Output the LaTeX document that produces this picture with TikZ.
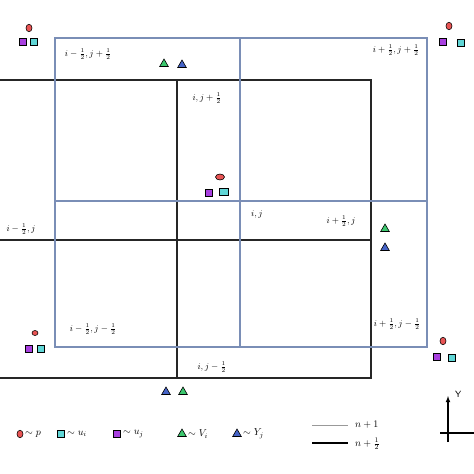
\documentclass[tikz,border=0pt]{standalone}
\usetikzlibrary{shapes.geometric}
\definecolor{gridblue}{RGB}{122,142,182}
\definecolor{mred}{RGB}{232,84,84}
\definecolor{mpurple}{RGB}{168,64,224}
\definecolor{mcyan}{RGB}{96,214,214}
\definecolor{mgreen}{RGB}{60,200,110}
\definecolor{mblue}{RGB}{70,100,200}
\tikzset{
  blk/.style={line width=1.8pt,black!85},
  blu/.style={line width=1.6pt,gridblue},
  lbl/.style={font=\small,inner sep=0pt},
  pm/.style={ellipse,draw=black,line width=0.6pt,fill=mred,minimum width=6pt,minimum height=7.5pt,inner sep=0pt},
  um/.style={rectangle,draw=black,line width=0.6pt,fill=mcyan,minimum size=7pt,inner sep=0pt},
  vm/.style={rectangle,draw=black,line width=0.6pt,fill=mpurple,minimum size=7pt,inner sep=0pt},
  gt/.style={regular polygon,regular polygon sides=3,draw=black,line width=0.6pt,fill=mgreen,minimum size=10pt,inner sep=0pt},
  bt/.style={regular polygon,regular polygon sides=3,draw=black,line width=0.6pt,fill=mblue,minimum size=10pt,inner sep=0pt},
  leg/.style={font=\normalsize,inner sep=0pt,anchor=west}
}
\begin{document}
\begin{tikzpicture}[x=1pt,y=-1pt]
\useasboundingbox (0,0) rectangle (474,474);
% black grid (n+1/2)
\draw[blk] (0,80) -- (371,80) -- (371,378) -- (0,378);
\draw[blk] (0,240) -- (371,240);
\draw[blk] (177,80) -- (177,378);
% blue grid (n+1)
\draw[blu] (55,38) rectangle (427,347);
\draw[blu] (55,201) -- (427,201);
\draw[blu] (240,38) -- (240,347);
% labels
\node[lbl] (l1) at (88,54) {$i-\frac12,j+\frac12$};
\node[lbl] (l2) at (207,98) {$i,j+\frac12$};
\node[lbl] (l3) at (396,50) {$i+\frac12,j+\frac12$};
\node[lbl] (l4) at (21,229) {$i-\frac12,j$};
\node[lbl] (l5) at (257,214) {$i,j$};
\node[lbl] (l6) at (341,221) {$i+\frac12,j$};
\node[lbl] (l7) at (93,329) {$i-\frac12,j-\frac12$};
\node[lbl] (l8) at (212,367) {$i,j-\frac12$};
\node[lbl] (l9) at (397,324) {$i+\frac12,j-\frac12$};
% markers top-left
\node[pm] (p1) at (29,28) {};
\node[vm] (v1) at (23,42) {};
\node[um] (u1) at (34,42) {};
% top-right
\node[pm] (p2) at (449,26) {};
\node[vm] (v2) at (443,42) {};
\node[um] (u2) at (461,43) {};
% centre
\node[pm,minimum width=9pt,minimum height=6pt] (p3) at (220,177) {};
\node[vm] (v3) at (209,193) {};
\node[um,minimum width=9pt] (u3) at (224,192) {};
% bottom-left
\node[pm,minimum width=6pt,minimum height=5pt] (p4) at (35,333) {};
\node[vm] (v4) at (29,349) {};
\node[um] (u4) at (41,349) {};
% bottom-right
\node[pm] (p5) at (443,341) {};
\node[vm] (v5) at (437,357) {};
\node[um] (u5) at (452,358) {};
% triangles
\node[gt] (g1) at (164,64) {};
\node[bt] (b1) at (182,65) {};
\node[gt] (g2) at (385,229) {};
\node[bt] (b2) at (385,248) {};
\node[bt] (b3) at (166,392) {};
\node[gt] (g3) at (183,392) {};
% legend
\node[pm] (lp) at (20,434) {};
\node[leg] (lpt) at (25,434) {$\sim p$};
\node[um] (lu) at (61,434) {};
\node[leg] (lut) at (67,434) {$\sim u_i$};
\node[vm] (lv) at (117,434) {};
\node[leg] (lvt) at (123,434) {$\sim u_j$};
\node[gt] (lg) at (182,434) {};
\node[leg] (lgt) at (188,434) {$\sim V_i$};
\node[bt] (lb) at (237,434) {};
\node[leg] (lbt) at (243,434) {$\sim Y_j$};
\coordinate (a1) at (312,425);
\coordinate (a2) at (348,425);
\coordinate (b1c) at (312,443);
\coordinate (b2c) at (348,443);
\draw[line width=0.9pt,black!40] (a1) -- (a2);
\draw[line width=1.1pt,black] (b1c) -- (b2c);
\node[leg] (n1) at (355,425) {$n+1$};
\node[leg] (n2) at (355,444) {$n+\frac12$};
% axes
\coordinate (ax0) at (448,442);
\coordinate (ax1) at (448,396);
\coordinate (ah0) at (440,433);
\coordinate (ah1) at (474,433);
\draw[line width=1.1pt,-latex] (ax0) -- (ax1);
\draw[line width=1.1pt] (ah0) -- (ah1);
\node[leg,font=\small\sffamily] (yl) at (455,394) {Y};
\end{tikzpicture}
\end{document}
